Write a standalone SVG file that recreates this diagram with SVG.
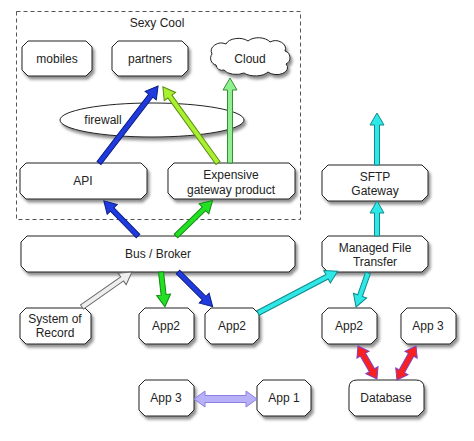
<svg xmlns="http://www.w3.org/2000/svg" width="474" height="441" viewBox="0 0 474 441">
<defs>
<filter id="sh" x="-20%" y="-20%" width="150%" height="160%">
<feDropShadow dx="2" dy="3" stdDeviation="1.8" flood-color="#000" flood-opacity="0.45"/>
</filter>
</defs>
<style>
.node{fill:#fff;stroke:#222;stroke-width:1;stroke-linejoin:round;filter:url(#sh)}
text{font-family:"Liberation Sans",Arial,sans-serif;font-size:12px;fill:#222;text-anchor:middle;dominant-baseline:central}
.blue{fill:#1f3be0;stroke:#0a1a80;stroke-width:1}
.chart{fill:#a8f030;stroke:#5a8a10;stroke-width:1}
.lgreen{fill:#8ef08e;stroke:#3a8a3a;stroke-width:1}
.green{fill:#22e022;stroke:#118811;stroke-width:1}
.cyan{fill:#2ee8e8;stroke:#128888;stroke-width:1}
.gray{fill:#eee;stroke:#666;stroke-width:1}
.lav{fill:#b8b0f8;stroke:#8a7ee0;stroke-width:1}
.red{fill:#f82020;stroke:#8040c0;stroke-width:1}
</style>
<rect width="474" height="441" fill="#fff"/>
<g id="sexy-cool">
<rect x="16.5" y="11.5" width="284" height="208" fill="none" stroke="#555" stroke-width="1" stroke-dasharray="4,3"/>
<text x="157" y="23">Sexy Cool</text>
</g>
<g id="firewall">
<ellipse cx="152" cy="120" rx="92" ry="17" class="node"/>
<text x="103" y="120">firewall</text>
</g>
<g id="mobiles">
<path class="node" d="M28,41H86L92,47V70L86,76H28L22,70V47Z"/>
<text x="57" y="59">mobiles</text>
</g>
<g id="partners">
<path class="node" d="M118,41H182L188,47V70L182,76H118L112,70V47Z"/>
<text x="150" y="59">partners</text>
</g>
<g id="cloud">
<path class="node" d="M216,65a7,7 0 0 1 -4,-11a10,8 0 0 1 14,-10a13,8 0 0 1 22,-3a13,8 0 0 1 22,1a10,8 0 0 1 15,9a7,7 0 0 1 1,13a11,7 0 0 1 -18,8a14,7 0 0 1 -24,1a13,7 0 0 1 -20,-3a6,6 0 0 1 -8,-5Z"/>
<text x="250" y="59">Cloud</text>
</g>
<g id="api">
<path class="node" d="M26,163H141L147,169V193L141,199H26L20,193V169Z"/>
<text x="83" y="181">API</text>
</g>
<g id="gateway">
<path class="node" d="M174,163H289L295,169V193L289,199H174L168,193V169Z"/>
<text x="231" y="175">Expensive</text>
<text x="231" y="190">gateway product</text>
</g>
<g id="bus">
<path class="node" d="M27,236H289L295,242V266L289,272H27L21,266V242Z"/>
<text x="158" y="254">Bus / Broker</text>
</g>
<g id="sor">
<path class="node" d="M26,308H85L91,314V338L85,344H26L20,338V314Z"/>
<text x="55" y="319">System of</text>
<text x="55" y="333">Record</text>
</g>
<g id="app2a">
<path class="node" d="M145,308H188L194,314V338L188,344H145L139,338V314Z"/>
<text x="166" y="326">App2</text>
</g>
<g id="app2b">
<path class="node" d="M211,308H253L259,314V338L253,344H211L205,338V314Z"/>
<text x="232" y="326">App2</text>
</g>
<g id="app3a">
<path class="node" d="M145,380H188L194,386V410L188,416H145L139,410V386Z"/>
<text x="166" y="398">App 3</text>
</g>
<g id="app1">
<path class="node" d="M263,380H305L311,386V410L305,416H263L257,410V386Z"/>
<text x="284" y="398">App 1</text>
</g>
<g id="sftp">
<path class="node" d="M328,165H422L428,171V195L422,201H328L322,195V171Z"/>
<text x="375" y="177">SFTP</text>
<text x="375" y="191">Gateway</text>
</g>
<g id="mft">
<path class="node" d="M328,236H422L428,242V266L422,272H328L322,266V242Z"/>
<text x="375" y="248">Managed File</text>
<text x="375" y="262">Transfer</text>
</g>
<g id="app2c">
<path class="node" d="M328,308H371L377,314V338L371,344H328L322,338V314Z"/>
<text x="349" y="326">App2</text>
</g>
<g id="app3b">
<path class="node" d="M407,308H450L456,314V338L450,344H407L401,338V314Z"/>
<text x="428" y="326">App 3</text>
</g>
<g id="database">
<path class="node" d="M357,380H416Q424,380 424,388V410L418,416H355L349,410V388Q349,380 357,380Z"/>
<text x="386" y="398">Database</text>
</g>
<g id="connectors">
<path class="blue" transform="translate(99,163) rotate(-52.5)" d="M0,-2.5H85V-7L97,0L85,7V2.5H0Z"/>
<path class="chart" transform="translate(218,163) rotate(-125.9)" d="M0,-2.5H82V-7L94,0L82,7V2.5H0Z"/>
<path class="lgreen" transform="translate(230,163) rotate(-90)" d="M0,-2.5H73V-7L85,0L73,7V2.5H0Z"/>
<path class="blue" transform="translate(138,236) rotate(-134.2)" d="M0,-2.5H37V-7L49,0L37,7V2.5H0Z"/>
<path class="green" transform="translate(176,236) rotate(-44.2)" d="M0,-2.5H39V-7L51,0L39,7V2.5H0Z"/>
<path class="gray" transform="translate(82,307) rotate(-35)" d="M0,-2.5H49V-7L61,0L49,7V2.5H0Z"/>
<path class="green" transform="translate(161,272) rotate(83.5)" d="M0,-2.5H23V-7L35,0L23,7V2.5H0Z"/>
<path class="blue" transform="translate(178,272) rotate(45)" d="M0,-2.5H37V-7L49,0L37,7V2.5H0Z"/>
<path class="cyan" transform="translate(258,313) rotate(-27.7)" d="M0,-2.5H78V-7L90,0L78,7V2.5H0Z"/>
<path class="cyan" transform="translate(368,273) rotate(109.4)" d="M0,-2.5H24V-7L36,0L24,7V2.5H0Z"/>
<path class="cyan" transform="translate(377,236) rotate(-90)" d="M0,-2.5H23V-7L35,0L23,7V2.5H0Z"/>
<path class="cyan" transform="translate(377,165) rotate(-90)" d="M0,-2.5H40V-7L52,0L40,7V2.5H0Z"/>
<path class="lav" transform="translate(194,399)" d="M0,0L11,-8V-3.5H52V-8L63,0L52,8V3.5H11V8Z"/>
<path class="red" transform="translate(358,346) rotate(60.1)" d="M0,0L10,-7V-3H28V-7L38,0L28,7V3H10V7Z"/>
<path class="red" transform="translate(416,346) rotate(119.2)" d="M0,0L10,-7V-3H29V-7L39,0L29,7V3H10V7Z"/>
</g>
</svg>
